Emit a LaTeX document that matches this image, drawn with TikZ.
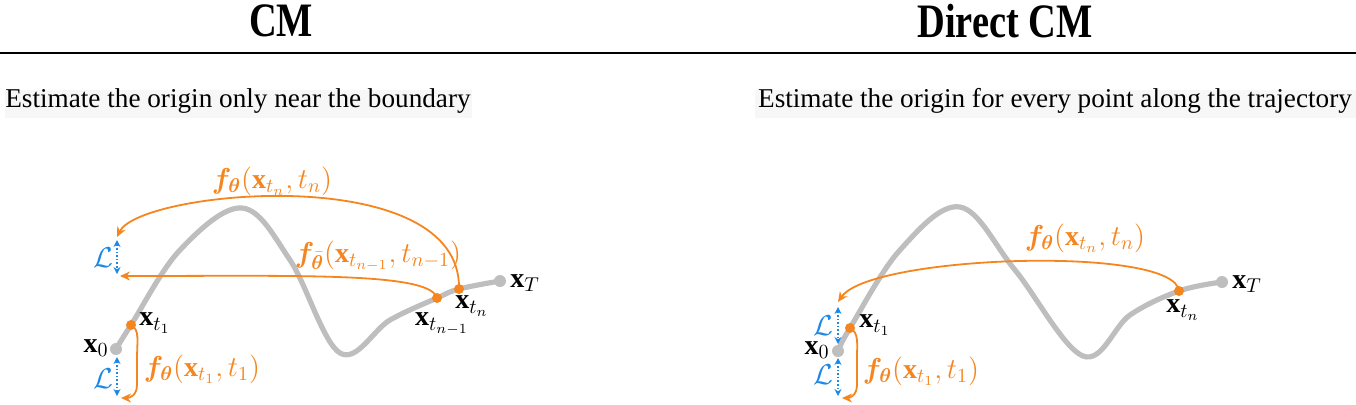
\documentclass[tikz,border=0pt]{standalone}
\usepackage{amsmath,bm}
\usepackage{fontspec}
\setmainfont{Liberation Serif}
\usetikzlibrary{arrows.meta}
\definecolor{org}{RGB}{245,133,30}
\definecolor{blu}{RGB}{30,136,229}
\definecolor{trj}{RGB}{190,190,190}
\tikzset{
 traj/.style={trj,line width=2.6pt,line cap=round},
 arr/.style={org,line width=0.9pt,-{Stealth[length=5pt,width=4.5pt]}},
 loss/.style={blu,line width=0.8pt,densely dotted,{Stealth[length=3.5pt,width=3.5pt]}-{Stealth[length=3.5pt,width=3.5pt]}},
 dot/.style={circle,fill=org,inner sep=0pt,minimum size=5pt},
 gdot/.style={circle,fill=trj,inner sep=0pt,minimum size=6pt},
 lab/.style={font=\fontsize{14}{16}\selectfont,inner sep=1pt},
 olab/.style={lab,org},
 blab/.style={lab,blu},
 ttl/.style={font=\fontsize{24}{28}\selectfont\bfseries,xscale=0.8},
 sub/.style={font=\fontsize{13.6}{16}\selectfont},
}
\begin{document}
\begin{tikzpicture}[x=0.5pt,y=-0.5pt]
\useasboundingbox (0,0) rectangle (1356,404);
\node[ttl] (t1) at (281,21) {CM};
\node[ttl] (t2) at (1005,21) {Direct CM};
\coordinate (r1) at (0,53); \coordinate (r2) at (1356,53);
\draw[line width=0.9pt] (r1) -- (r2);
\fill[black!3] (5,90) rectangle (472,118);
\fill[black!3] (755,90) rectangle (1356,118);
\node[sub] (s1) at (238,101) {Estimate the origin only near the boundary};
\node[sub] (s2) at (1055,101) {Estimate the origin for every point along the trajectory};
% ---------- left panel
\coordinate (a0) at (116,349);
\coordinate (a1) at (131,325);
\coordinate (anm) at (437,298);
\coordinate (an) at (459,289);
\coordinate (aT) at (500,281);
\draw[traj] plot[smooth,tension=0.6] coordinates {(116,349) (131,325) (180,250) (242,208) (290,260) (340,353) (390,320) (437,298) (459,289) (500,281)};
\coordinate (aL1) at (117,240); \coordinate (aL2) at (117,274);
\coordinate (aL3) at (117,357); \coordinate (aL4) at (117,396);
\draw[arr] (an) .. controls (462,160) and (140,190) .. (117,237);
\draw[arr] (anm) .. controls (430,272) and (300,276) .. (120,276);
\draw[arr] (a1) .. controls (140,330) and (137,340) .. (137,360) -- (137,385) .. controls (137,395) and (130,398) .. (121,398);
\draw[loss] (aL1) -- (aL2);
\draw[loss] (aL3) -- (aL4);
\node[gdot] (ga0) at (a0) {}; \node[gdot] (gaT) at (aT) {};
\node[dot] (da1) at (a1) {}; \node[dot] (danm) at (anm) {}; \node[dot] (dan) at (an) {};
\node[lab] (lx0) at (96,348) {$\mathbf{x}_0$};
\node[lab] (lx1) at (155,323) {$\mathbf{x}_{t_1}$};
\node[lab] (lxn) at (472,306) {$\mathbf{x}_{t_n}$};
\node[lab] (lxnm) at (442,324) {$\mathbf{x}_{t_{n-1}}$};
\node[lab] (lxT) at (525,283) {$\mathbf{x}_T$};
\node[olab] (fa) at (272,181) {$\bm f_{\bm\theta}(\mathbf{x}_{t_n},t_n)$};
\node[olab] (fb) at (378,256) {$\bm f_{\bar{\bm\theta}}(\mathbf{x}_{t_{n-1}},t_{n-1})$};
\node[olab] (fc) at (202,369) {$\bm f_{\bm\theta}(\mathbf{x}_{t_1},t_1)$};
\node[blab] (La) at (103,258) {$\mathcal{L}$};
\node[blab] (Lb) at (103,379) {$\mathcal{L}$};
% ---------- right panel
\coordinate (b0) at (838,351);
\coordinate (b1) at (850,328);
\coordinate (bn) at (1179,291);
\coordinate (bT) at (1222,282);
\draw[traj] plot[smooth,tension=0.6] coordinates {(838,351) (850,328) (900,250) (960,207) (1015,270) (1083,356) (1130,315) (1179,291) (1222,282)};
\draw[arr] (bn) .. controls (1175,245) and (870,255) .. (838,302);
\draw[arr] (b1) .. controls (859,333) and (857,342) .. (857,360) -- (857,385) .. controls (857,395) and (850,398) .. (842,398);
\coordinate (bL1) at (838,307); \coordinate (bL2) at (838,344);
\coordinate (bL3) at (838,358); \coordinate (bL4) at (838,396);
\draw[loss] (bL1) -- (bL2);
\draw[loss] (bL3) -- (bL4);
\node[gdot] (gb0) at (b0) {}; \node[gdot] (gbT) at (bT) {};
\node[dot] (db1) at (b1) {}; \node[dot] (dbn) at (bn) {};
\node[lab] (mx0) at (817,350) {$\mathbf{x}_0$};
\node[lab] (mx1) at (875,325) {$\mathbf{x}_{t_1}$};
\node[lab] (mxn) at (1183,310) {$\mathbf{x}_{t_n}$};
\node[lab] (mxT) at (1247,284) {$\mathbf{x}_T$};
\node[olab] (ga) at (1085,238) {$\bm f_{\bm\theta}(\mathbf{x}_{t_n},t_n)$};
\node[olab] (gc) at (921,371) {$\bm f_{\bm\theta}(\mathbf{x}_{t_1},t_1)$};
\node[blab] (Ma) at (823,326) {$\mathcal{L}$};
\node[blab] (Mb) at (823,375) {$\mathcal{L}$};
\end{tikzpicture}
\end{document}
